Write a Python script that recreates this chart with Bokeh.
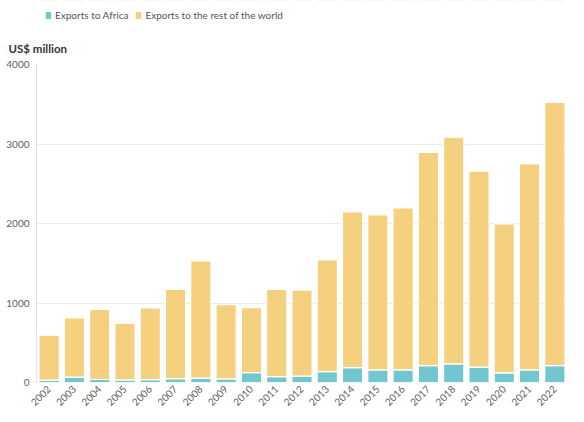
from bokeh.plotting import figure
from bokeh.models import Legend, LegendItem, ColumnDataSource, Range1d
from bokeh.layouts import column
from bokeh.embed import file_html
from bokeh.resources import INLINE
import math

years = [str(y) for y in range(2002, 2023)]
africa = [30, 68, 38, 33, 35, 50, 55, 45, 125, 75, 80, 138, 188, 160, 160, 213, 235, 193, 122, 160, 213]
total = [595, 812, 921, 745, 937, 1172, 1531, 979, 941, 1172, 1163, 1543, 2147, 2109, 2197, 2893, 3086, 2658, 1996, 2751, 3522]
rest = [t - a for t, a in zip(total, africa)]
y_ticks = [0, 1000, 2000, 3000, 4000]

series = ["Exports to Africa", "Exports to the rest of the world"]
colors = ["#72c6cf", "#f5d07f"]

src = ColumnDataSource(dict(year=years, africa=africa, rest=rest))

FONT = "Lato"

# header holding the legend (its bars lie outside its visible range)
h = figure(width=576, height=30, x_range=years, y_range=Range1d(-1000, -900),
           output_backend="svg", toolbar_location=None,
           x_axis_location=None, y_axis_location=None,
           min_border=0, min_border_left=0, min_border_right=0,
           min_border_top=0, min_border_bottom=0)
hr = h.vbar_stack(["africa", "rest"], x="year", width=0.8, source=src,
                  color=colors, line_color="white", line_width=1)
h.grid.visible = False
h.outline_line_color = None
legend = Legend(items=[LegendItem(label=series[i], renderers=[hr[i]]) for i in range(2)],
                orientation="horizontal", location=(8, 9),
                label_text_font=FONT, label_text_font_size="10px", label_text_color="#555555",
                glyph_width=8, glyph_height=10, label_standoff=3, spacing=6,
                padding=0, margin=0, border_line_color=None, background_fill_alpha=0)
h.add_layout(legend)

# main chart
p = figure(width=576, height=384, x_range=years, y_range=(0, 4000),
           output_backend="svg", toolbar_location=None,
           title="US$ million",
           min_border_left=36, min_border_right=9, min_border_top=34, min_border_bottom=32)

rs = p.vbar_stack(["africa", "rest"], x="year", width=0.8, source=src,
                  color=colors, line_color="white", line_width=1.2)

p.title.text_font = FONT
p.title.text_font_size = "11.5px"
p.title.text_font_style = "bold"
p.title.text_color = "#333333"
p.title.align = "left"
p.title.offset = -28
p.title.standoff = 19

p.outline_line_color = None
p.xgrid.grid_line_color = None
p.ygrid.grid_line_color = "#ececec"
p.yaxis.ticker = y_ticks
p.yaxis.axis_line_color = "#e2e2e2"
p.yaxis.major_tick_line_color = None
p.yaxis.major_tick_out = 0
p.yaxis.minor_tick_line_color = None
p.yaxis.major_label_standoff = 7
p.xaxis.axis_line_color = None
p.xaxis.major_tick_line_color = None
p.xaxis.major_tick_out = 0
p.xaxis.major_label_orientation = math.pi / 4
p.xaxis.major_label_standoff = 5
for ax in (p.xaxis, p.yaxis):
    ax.major_label_text_font = FONT
    ax.major_label_text_font_size = "10px"
    ax.major_label_text_color = "#606060"

layout = column(h, p, spacing=0)
open("out.html", "w").write(file_html(layout, INLINE))
